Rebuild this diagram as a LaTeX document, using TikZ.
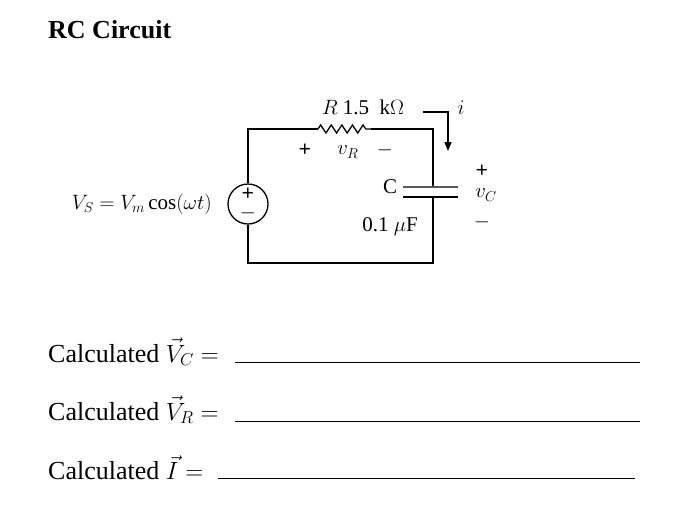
\documentclass[tikz,border=0pt]{standalone}
\usepackage{fontspec}
\setmainfont{Liberation Serif}
\usetikzlibrary{decorations.pathmorphing,arrows.meta}
\begin{document}
\begin{tikzpicture}[x=1pt,y=-1pt,
  wire/.style={line width=1.3pt},
  lbl/.style={font=\fontsize{21}{24}\selectfont,inner sep=0pt},
  big/.style={font=\fontsize{26}{30}\selectfont,inner sep=0pt,anchor=west},
  blank/.style={line width=0.9pt}]
\useasboundingbox (0,0) rectangle (690,517);
\node[anchor=west,inner sep=0pt,font=\fontsize{26}{30}\selectfont\bfseries] (title) at (48,30) {RC Circuit};
% circuit
\coordinate (tl) at (248,129); \coordinate (tr) at (433,129);
\coordinate (bl) at (248,263); \coordinate (br) at (433,263);
\coordinate (r1) at (318,129); \coordinate (r2) at (371,129);
\coordinate (c1) at (433,187); \coordinate (c2) at (433,197);
\node[circle,draw,line width=1.3pt,minimum size=40pt,inner sep=0pt] (src) at (248,204) {};
\node[lbl,font=\fontsize{22}{24}\selectfont\bfseries] at (248,194) {+};
\node[lbl,font=\fontsize{22}{24}\selectfont\bfseries] at (248,213) {$-$};
\draw[wire] (src.north) -- (tl) -- (r1);
\draw[wire,decorate,decoration={zigzag,segment length=10.6pt,amplitude=4pt}] (r1) -- (r2);
\draw[wire] (r2) -- (tr) -- (c1);
\draw[line width=2.4pt,gray!70!black] (403,187) -- (458,187);
\draw[line width=1.3pt] (403,197) -- (458,197);
\draw[wire] (c2) -- (br) -- (bl) -- (src.south);
\coordinate (ia) at (423,112); \coordinate (ib) at (448,112); \coordinate (ic) at (448,151);
\draw[line width=1.4pt,-{Triangle[length=9pt,width=7pt]}] (ia) -- (ib) -- (ic);
\node[lbl] (i) at (461,108) {$i$};
\node[lbl] (R) at (363,107) {$R$ 1.5\ \ k$\Omega$};
\node[lbl,font=\fontsize{22}{24}\selectfont\bfseries] (pR) at (305,150) {+};
\node[lbl] (vR) at (348,152) {$v_R$};
\node[lbl,font=\fontsize{22}{24}\selectfont\bfseries] (mR) at (385,150) {$-$};
\node[lbl] (C) at (390,187) {C};
\node[lbl] (Cv) at (390,227) {0.1 $\mu$F};
\node[lbl,font=\fontsize{22}{24}\selectfont\bfseries] (pC) at (482,171) {+};
\node[lbl] (vC) at (486,195) {$v_C$};
\node[lbl] (mC) at (482,222) {$-$};
\node[lbl,anchor=east] (VS) at (212,204) {$V_S = V_m\cos(\omega t)$};
% questions
\node[big] (q1) at (48,352) {Calculated $\vec V_C =$};
\node[big] (q2) at (48,410) {Calculated $\vec V_R =$};
\node[big] (q3) at (48,468) {Calculated $\vec I =$};
\coordinate (a1) at (235,362); \coordinate (b1) at (640,362);
\coordinate (a2) at (235,421); \coordinate (b2) at (640,421);
\coordinate (a3) at (218,478); \coordinate (b3) at (635,478);
\draw[blank] (a1) -- (b1); \draw[blank] (a2) -- (b2); \draw[blank] (a3) -- (b3);
\end{tikzpicture}
\end{document}
